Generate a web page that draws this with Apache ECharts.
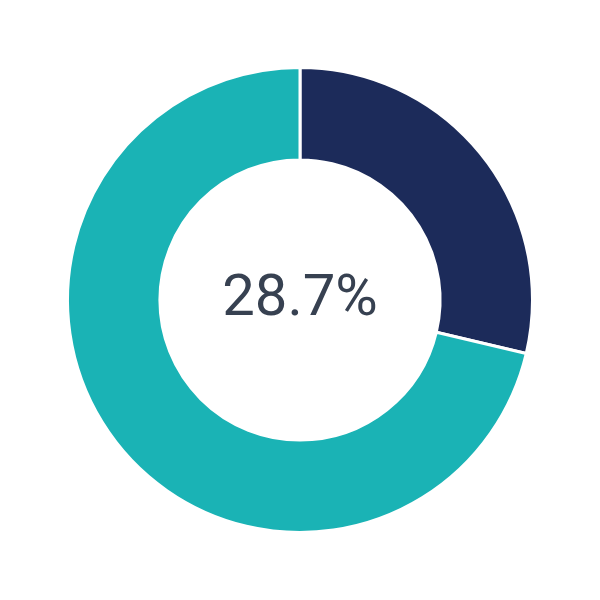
<!DOCTYPE html>
<html><head><meta charset="utf-8">
<script src="https://cdn.jsdelivr.net/npm/echarts@6/dist/echarts.min.js"></script>
<style>html,body{margin:0;padding:0;background:#fff}#c{width:600px;height:600px}</style>
</head><body><div id="c"></div>
<script>
const categories = ['Share', 'Rest'];
const values = [28.7, 71.3];
const colors = ['#1c2b5a', '#1ab3b5'];
const centerLabel = '28.7%';

const chart = echarts.init(document.getElementById('c'), null, {renderer: 'canvas'});
chart.setOption({
  animation: false,
  backgroundColor: '#ffffff',
  graphic: [{
    type: 'text', left: 'center', top: 'middle',
    style: { text: centerLabel, fontSize: 58, fontFamily: 'Roboto', fill: '#374151', textAlign: 'center', textVerticalAlign: 'middle' }
  }],
  series: [{
    type: 'pie',
    center: ['50%', '50%'],
    radius: ['46.7%', '77.5%'],
    startAngle: 90,
    clockwise: true,
    label: { show: false },
    labelLine: { show: false },
    itemStyle: { borderColor: '#ffffff', borderWidth: 3 },
    data: categories.map((n, i) => ({ name: n, value: values[i], itemStyle: { color: colors[i] } }))
  }]
});
</script></body></html>
